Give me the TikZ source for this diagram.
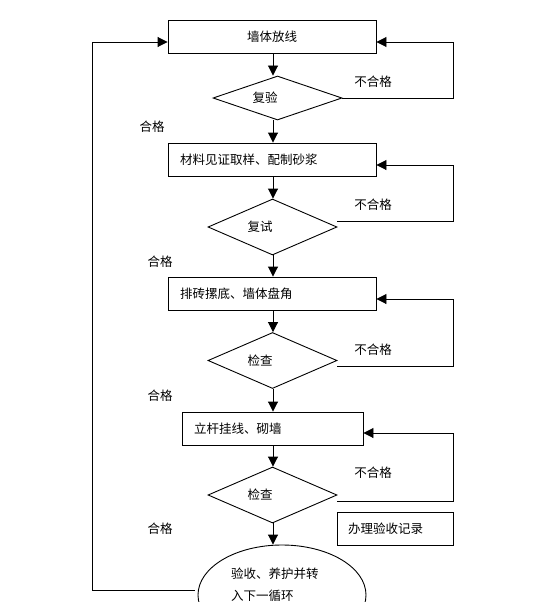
\documentclass[tikz,border=0pt]{standalone}
\usepackage{fontspec}
\newfontfamily\cjk{Noto Sans CJK SC}
\usetikzlibrary{arrows.meta,shapes.geometric}
\tikzset{
  every node/.style={font=\cjk\fontsize{12.5}{21.5}\selectfont},
  stepbox/.style={draw, rectangle, line width=0.9, minimum height=33, inner xsep=12, inner ysep=0, text width=184, align=left},
  check/.style={draw, diamond, line width=0.9, shape aspect=2.3, minimum width=129, minimum height=56, inner sep=0, text width=50, align=left},
  arr/.style={-{Triangle[length=10pt,width=10pt]}, line width=0.9},
}
\begin{document}
\begin{tikzpicture}[x=1pt,y=-1pt]
			\useasboundingbox (0,0) rectangle (553,602);
			\clip (0,0) rectangle (553,602);
			\coordinate (axis) at (273,0);
			\coordinate (rcol) at (453,0);
			\coordinate (lcol) at (92,0);
			%
			\node[stepbox,align=center] (b1) at (272,36.5)	{墙体放线};
			\node[check,minimum height=44] (d1) at (277.5,98)	{复验};
			\node[stepbox] (b2) at (272,159.5)	{材料见证取样、配制砂浆};
			\node[check] (d2) at (272.5,227)	{复试};
			\node[stepbox] (b3) at (272,293.5)	{排砖摞底、墙体盘角};
			\node[check] (d3) at (272.5,360.5)	{检查};
			\node[stepbox,text width=157,inner xsep=12] (b4) at (272.5,428.5)	{立杆挂线、砌墙};
			\node[check] (d4) at (272.5,495)	{检查};
			\node[draw,ellipse,line width=0.9,minimum width=168,minimum height=100,inner sep=0,text width=102,align=left] (accept) at (282,595)	{验收、养护并转\\入下一循环\\~};
			\node[draw,line width=0.9,minimum width=116,minimum height=33,inner xsep=11,inner ysep=0,text width=94,align=left] (record) at (395,528.5)	{办理验收记录};
			%
			\foreach \name/\y in {fail1/82, fail2/205, fail3/350, fail4/473}
			{	\node (\name) at (373,\y) {不合格};
			}
			\foreach \name/\x/\y in {pass1/152/127, pass2/160/262, pass3/160/396, pass4/160/529}
			{	\node (\name) at (\x,\y) {合格};
			}
			%
			\foreach \u/\v in {b1/d1, d1/b2, b2/d2, d2/b3, b3/d3, d3/b4, b4/d4, d4/accept}
			{	\draw[arr] (\u.south -| axis) -- (\v.north -| axis);
			}
			% loops back on failure
			\draw[arr] (d1.east) -| ([yshift=-5.5]b1.east -| rcol) -- ([yshift=-5.5]b1.east);
			\draw[arr] ([yshift=6]d2.east) -| ([yshift=-5.5]b2.east -| rcol) -- ([yshift=-5.5]b2.east);
			\draw[arr] ([yshift=-5.5]d3.east) -| ([yshift=-5.5]b3.east -| rcol) -- ([yshift=-5.5]b3.east);
			\draw[arr] ([yshift=-6]d4.east) -| ([yshift=-4.5]b4.east -| rcol) -- ([yshift=-4.5]b4.east);
			\draw[arr] ([xshift=-3,yshift=5]accept.west) -| ([yshift=-5.5]b1.west -| lcol) -- ([yshift=-5.5]b1.west);
			%
\end{tikzpicture}
\end{document}
